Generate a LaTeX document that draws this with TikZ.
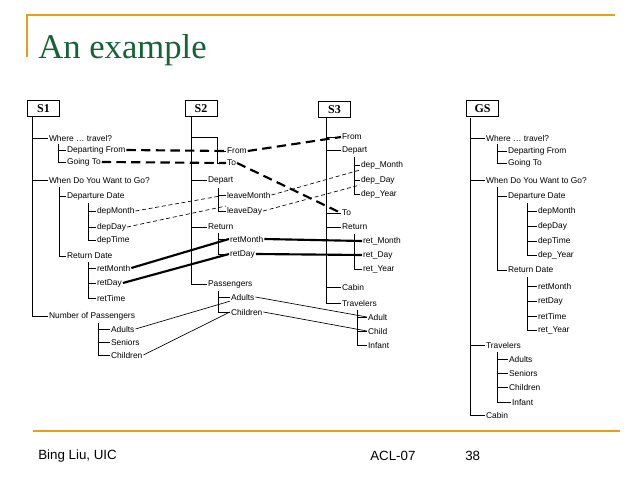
\documentclass[tikz,border=0pt]{standalone}
\usepackage{fontspec}
\setmainfont{Liberation Serif}
\setsansfont{Liberation Sans}
\begin{document}
\begin{tikzpicture}[x=0.75pt,y=-0.75pt,
 t/.style={anchor=west,inner sep=0.6pt,font=\sffamily\fontsize{6.3}{7}\selectfont},
 box/.style={draw,line width=0.6pt,minimum width=24pt,minimum height=12pt,inner sep=0pt,font=\bfseries\fontsize{9}{10}\selectfont},
 tr/.style={line width=0.5pt},
 thd/.style={line width=1.6pt,dash pattern=on 7pt off 4pt},
 tnd/.style={line width=0.5pt,dash pattern=on 3pt off 2pt},
 thk/.style={line width=1.6pt},
 thn/.style={line width=0.5pt}]
\definecolor{org}{RGB}{230,160,20}
\definecolor{grn}{RGB}{20,100,55}
\useasboundingbox (0,0) rectangle (638,478);
% frame
\coordinate (o1) at (27,57); \coordinate (o2) at (27,15); \coordinate (o3) at (615,15);
\draw[org,line width=0.9pt] (o1) -- (o2) -- (o3);
\node[anchor=base west,inner sep=0,text=grn,font=\fontsize{26}{28}\selectfont] (title) at (38,59) {An example};
\coordinate (f1) at (33,431); \coordinate (f2) at (620,431);
\draw[org,line width=0.9pt] (f1) -- (f2);
\node[anchor=west,inner sep=0,font=\sffamily\fontsize{10}{12}\selectfont] (ft1) at (38,456) {Bing Liu, UIC};
\node[anchor=west,inner sep=0,font=\sffamily\fontsize{10}{12}\selectfont] (ft2) at (370,456) {ACL-07};
\node[anchor=west,inner sep=0,font=\sffamily\fontsize{10}{12}\selectfont] (ft3) at (465,456) {38};
% S1
\node[box] (s1) at (43.5,108.5) {S1};
\coordinate (s1t) at (32,117);
\node[t] (a1) at (48,138) {Where … travel?};
\coordinate (a1t) at (58,144);
\node[t] (a11) at (66,150) {Departing From};
\node[t] (a12) at (66,162) {Going To};
\node[t] (a2) at (48,180) {When Do You Want to Go?};
\coordinate (a2t) at (59,187);
\node[t] (a21) at (66,196) {Departure Date};
\coordinate (a21t) at (88,203);
\node[t] (a211) at (96,211) {depMonth};
\node[t] (a212) at (96,227) {depDay};
\node[t] (a213) at (96,240) {depTime};
\node[t] (a22) at (66,256) {Return Date};
\coordinate (a22t) at (88,262);
\node[t] (a221) at (96,268) {retMonth};
\node[t] (a222) at (96,283) {retDay};
\node[t] (a223) at (96,298) {retTime};
\node[t] (a3) at (48,316) {Number of Passengers};
\coordinate (a3t) at (98,323);
\node[t] (a31) at (110,329) {Adults};
\node[t] (a32) at (110,342) {Seniors};
\node[t] (a33) at (110,355) {Children};
\draw[tr] (s1t) |- (a1.west) (s1t) |- (a2.west) (s1t) |- (a3.west)
 (a1t) |- (a11.west) (a1t) |- (a12.west)
 (a2t) |- (a21.west) (a2t) |- (a22.west)
 (a21t) |- (a211.west) (a21t) |- (a212.west) (a21t) |- (a213.west)
 (a22t) |- (a221.west) (a22t) |- (a222.west) (a22t) |- (a223.west)
 (a3t) |- (a31.west) (a3t) |- (a32.west) (a3t) |- (a33.west);
% S2
\node[box] (s2) at (201,108.5) {S2};
\coordinate (s2t) at (191,117);
\coordinate (b0t) at (217,137);
\node[t] (b1) at (226,151) {From};
\node[t] (b2) at (226,163) {To};
\node[t] (b3) at (207,180) {Depart};
\coordinate (b3t) at (218,188);
\node[t] (b31) at (226,195) {leaveMonth};
\node[t] (b32) at (226,211) {leaveDay};
\node[t] (b4) at (207,227) {Return};
\coordinate (b4t) at (218,233);
\node[t] (b41) at (229,239) {retMonth};
\node[t] (b42) at (229,254) {retDay};
\node[t] (b5) at (207,284) {Passengers};
\coordinate (b5t) at (218,291);
\node[t] (b51) at (230,297) {Adults};
\node[t] (b52) at (230,312) {Children};
\draw[tr] (s2t) |- (b0t) (b0t) |- (b1.west) (b0t) |- (b2.west)
 (s2t) |- (b3.west) (s2t) |- (b4.west) (s2t) |- (b5.west)
 (b3t) |- (b31.west) (b3t) |- (b32.west)
 (b4t) |- (b41.west) (b4t) |- (b42.west)
 (b5t) |- (b51.west) (b5t) |- (b52.west);
% S3
\node[box] (s3) at (334.5,109.5) {S3};
\coordinate (s3t) at (326,118);
\node[t] (c1) at (341,137) {From};
\node[t] (c2) at (341,150) {Depart};
\coordinate (c2t) at (354,157);
\node[t] (c21) at (360,165) {dep\_Month};
\node[t] (c22) at (360,180) {dep\_Day};
\node[t] (c23) at (360,194) {dep\_Year};
\node[t] (c3) at (341,213) {To};
\node[t] (c4) at (341,227) {Return};
\coordinate (c4t) at (354,234);
\node[t] (c41) at (362,241) {ret\_Month};
\node[t] (c42) at (362,255) {ret\_Day};
\node[t] (c43) at (362,269) {ret\_Year};
\node[t] (c5) at (341,287) {Cabin};
\node[t] (c6) at (341,303) {Travelers};
\coordinate (c6t) at (357,310);
\node[t] (c61) at (367,317) {Adult};
\node[t] (c62) at (367,331) {Child};
\node[t] (c63) at (367,345) {Infant};
\draw[tr] (s3t) |- (c1.west) (s3t) |- (c2.west) (s3t) |- (c3.west) (s3t) |- (c4.west)
 (s3t) |- (c5.west) (s3t) |- (c6.west)
 (c2t) |- (c21.west) (c2t) |- (c22.west) (c2t) |- (c23.west)
 (c4t) |- (c41.west) (c4t) |- (c42.west) (c4t) |- (c43.west)
 (c6t) |- (c61.west) (c6t) |- (c62.west) (c6t) |- (c63.west);
% GS
\node[box] (gs) at (482.5,108.5) {GS};
\coordinate (gt) at (470,118);
\node[t] (g1) at (485,138) {Where … travel?};
\coordinate (g1t) at (497,144);
\node[t] (g11) at (507,151) {Departing From};
\node[t] (g12) at (507,163) {Going To};
\node[t] (g2) at (485,180) {When Do You Want to Go?};
\coordinate (g2t) at (497,187);
\node[t] (g21) at (507,196) {Departure Date};
\coordinate (g21t) at (527,203);
\node[t] (g211) at (537,211) {depMonth};
\node[t] (g212) at (537,226) {depDay};
\node[t] (g213) at (537,241) {depTime};
\node[t] (g214) at (537,255) {dep\_Year};
\node[t] (g22) at (507,270) {Return Date};
\coordinate (g22t) at (527,277);
\node[t] (g221) at (537,286) {retMonth};
\node[t] (g222) at (537,301) {retDay};
\node[t] (g223) at (537,316) {retTime};
\node[t] (g224) at (537,330) {ret\_Year};
\node[t] (g3) at (485,345) {Travelers};
\coordinate (g3t) at (497,352);
\node[t] (g31) at (508,359) {Adults};
\node[t] (g32) at (508,373) {Seniors};
\node[t] (g33) at (508,387) {Children};
\node[t] (g34) at (511,402) {Infant};
\node[t] (g4) at (485,415) {Cabin};
\draw[tr] (gt) |- (g1.west) (gt) |- (g2.west) (gt) |- (g3.west) (gt) |- (g4.west)
 (g1t) |- (g11.west) (g1t) |- (g12.west)
 (g2t) |- (g21.west) (g2t) |- (g22.west)
 (g21t) |- (g211.west) (g21t) |- (g212.west) (g21t) |- (g213.west) (g21t) |- (g214.west)
 (g22t) |- (g221.west) (g22t) |- (g222.west) (g22t) |- (g223.west) (g22t) |- (g224.west)
 (g3t) |- (g31.west) (g3t) |- (g32.west) (g3t) |- (g33.west) (g3t) |- (g34.west);
% mappings
\draw[thd] (a11.east) -- (b1.west);
\draw[thd] (b1.east) -- (c1.west);
\draw[thd] (a12.east) -- (b2.west);
\draw[thd] (b2.east) -- (c3.west);
\draw[tnd] (a211.east) -- (b31.west);
\draw[tnd] (a212.east) -- (b32.north west);
\draw[tnd] (b31.east) -- (c21.south west);
\draw[tnd] (b32.east) -- (c22.south west);
\draw[thk] (a221.east) -- (b41.west);
\draw[thk] (a222.east) -- (b42.west);
\draw[thk] (b41.east) -- (c41.west);
\draw[thk] (b42.east) -- (c42.west);
\draw[thn] (a31.east) -- (b51.south west);
\draw[thn] (a33.east) -- (b52.west);
\draw[thn] (b51.east) -- (c61.west);
\draw[thn] (b52.east) -- (c62.west);
\end{tikzpicture}
\end{document}
